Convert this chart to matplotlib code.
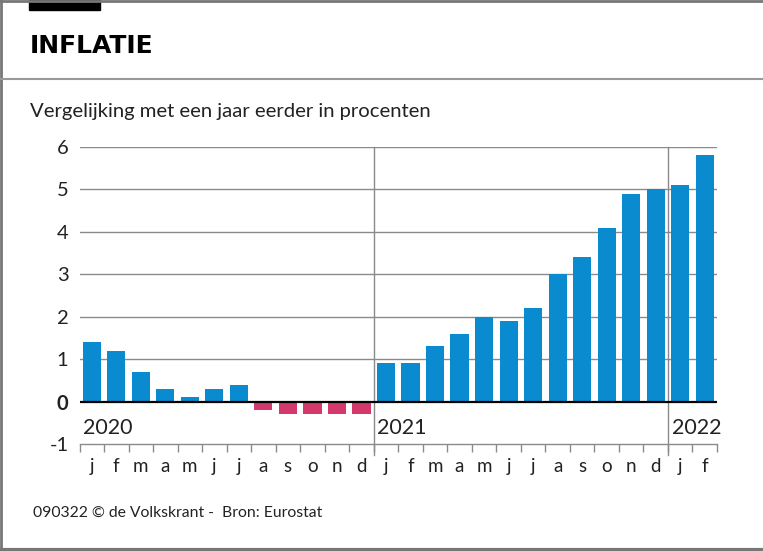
import matplotlib.pyplot as plt
from matplotlib.lines import Line2D
from matplotlib.patches import Rectangle

# ---- data ----
months = ['j', 'f', 'm', 'a', 'm', 'j', 'j', 'a', 's', 'o', 'n', 'd',
          'j', 'f', 'm', 'a', 'm', 'j', 'j', 'a', 's', 'o', 'n', 'd',
          'j', 'f']
inflation = [1.4, 1.2, 0.7, 0.3, 0.1, 0.3, 0.4, -0.2, -0.3, -0.3, -0.3, -0.3,
             0.9, 0.9, 1.3, 1.6, 2.0, 1.9, 2.2, 3.0, 3.4, 4.1, 4.9, 5.0,
             5.1, 5.8]
years = ['2020', '2021', '2022']
year_start = [0, 12, 24]
yticks = [-1, 0, 1, 2, 3, 4, 5, 6]

blue = '#0a8bd0'
pink = '#d33a6b'
grid = '#8a8a8a'
font = 'Lato'

fig = plt.figure(figsize=(7.63, 5.51), dpi=100)
W, H = 763, 551

# frame + header
fig.add_artist(Line2D([0.5 / W, 0.5 / W], [0, 1], color='#777777', lw=2))
fig.add_artist(Line2D([0, 1], [1 - 0.5 / H, 1 - 0.5 / H], color='#777777', lw=2))
fig.add_artist(Line2D([0, 1], [1.5 / H, 1.5 / H], color='#777777', lw=3))
fig.add_artist(Line2D([0, 1], [1 - 79 / H, 1 - 79 / H], color='#999999', lw=1.5))
fig.add_artist(Rectangle((29 / W, 1 - 10 / H), 71 / W, 10 / H, color='black',
                         transform=fig.transFigure))

fig.text(30 / W, 1 - 46 / H, 'INFLATIE', fontsize=18, fontweight='bold',
         family='DejaVu Sans', va='center', ha='left')
fig.text(30 / W, 1 - 112 / H, 'Vergelijking met een jaar eerder in procenten',
         fontsize=14.6, family=font, va='center', ha='left', color='#222222')
fig.text(33 / W, 1 - 513 / H, '090322 © de Volkskrant -  Bron: Eurostat',
         fontsize=11.3, family=font, va='center', ha='left', color='#222222')

ax = fig.add_axes([79.5 / W, (H - 444) / H, (717 - 79.5) / W, (444 - 147) / H])

x = list(range(len(inflation)))
colors = [blue if v >= 0 else pink for v in inflation]
ax.bar(x, inflation, width=0.74, color=colors, zorder=2)

ax.set_xlim(-0.5, len(inflation) - 0.5)
ax.set_ylim(-1, 6)

for y in yticks[2:]:
    ax.axhline(y, color=grid, lw=1, zorder=1)
ax.axhline(0, color='black', lw=1.6, zorder=3)

for s in ['top', 'right', 'left']:
    ax.spines[s].set_visible(False)
ax.spines['bottom'].set_color(grid)
ax.spines['bottom'].set_linewidth(1)

# year separators and labels
for i, (yr, st) in enumerate(zip(years, year_start)):
    if st > 0:
        ax.plot([st - 0.5, st - 0.5], [-1.25, 6], color=grid, lw=1,
                clip_on=False, zorder=1)
    ax.text(st - 0.35, -0.62, yr, fontsize=15.5, family=font, va='center',
            ha='left', color='#222222')

ax.set_xticks([i - 0.5 for i in range(len(inflation) + 1)])
ax.set_xticklabels([])
ax.tick_params(axis='x', which='major', length=6, color=grid, width=1)
ax.set_xticks(x, minor=True)
ax.set_xticklabels(months, minor=True, fontsize=13.5, family=font, color='#222222')
ax.tick_params(axis='x', which='minor', length=0, pad=10)

ax.set_yticks(yticks)
ax.set_yticklabels([str(v) for v in yticks], fontsize=14.5, family=font,
                   color='#222222')
ax.tick_params(axis='y', length=0, pad=8)
ax.get_yticklabels()[1].set_fontweight('bold')

fig.savefig('out.png', dpi=100)
